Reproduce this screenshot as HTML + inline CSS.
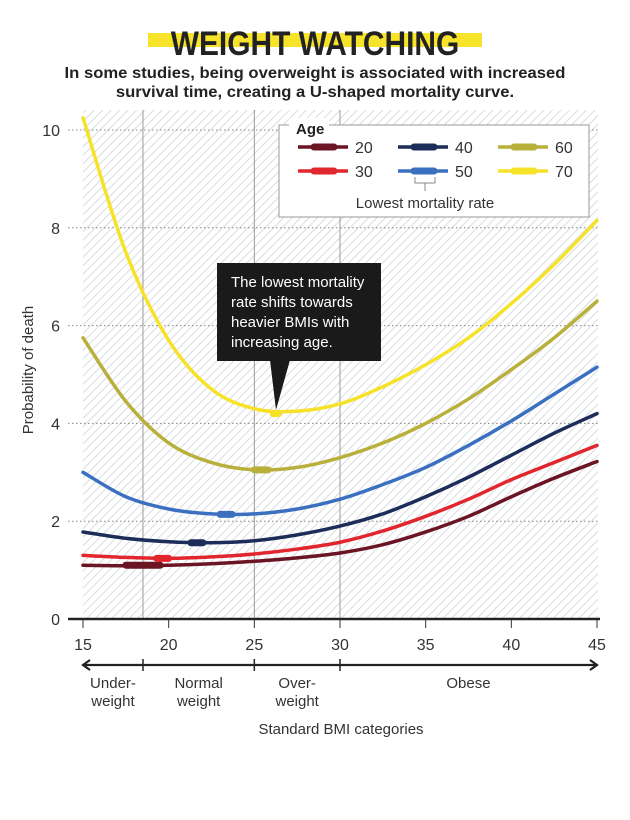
<!DOCTYPE html>
<html><head><meta charset="utf-8"><style>
body{margin:0;background:#fff;width:630px;height:815px;overflow:hidden;font-family:"Liberation Sans",sans-serif}
text{font-family:"Liberation Sans",sans-serif}
</style></head><body>
<svg id="chart" width="630" height="815" viewBox="0 0 630 815" xmlns="http://www.w3.org/2000/svg">
<defs>
<pattern id="hatch" width="6" height="6" patternUnits="userSpaceOnUse" patternTransform="rotate(45)">
<rect width="6" height="6" fill="#fff"/><line x1="0" y1="0" x2="0" y2="6" stroke="#d8dce0" stroke-width="2"/>
</pattern>
</defs>
<rect x="148" y="33" width="334" height="14" fill="#f6e32a"/>
<text x="315" y="55" text-anchor="middle" font-size="34" font-weight="bold" fill="#222" transform="translate(315,0) scale(0.88,1) translate(-315,0)">WEIGHT WATCHING</text>
<text x="315" y="78" text-anchor="middle" font-size="16" font-weight="bold" fill="#222" transform="translate(315,0) scale(1.04,1) translate(-315,0)">In some studies, being overweight is associated with increased</text>
<text x="315" y="97" text-anchor="middle" font-size="16" font-weight="bold" fill="#222" transform="translate(315,0) scale(1.04,1) translate(-315,0)">survival time, creating a U-shaped mortality curve.</text>
<rect x="83" y="110" width="515" height="509" fill="url(#hatch)"/>
<g id="grid"></g>
<g id="series"></g>
<g id="axes"></g>
<g>
<rect x="279" y="125" width="310" height="92" fill="#fff" stroke="#999" stroke-width="1"/>
<rect x="289" y="118" width="40" height="14" fill="#fff"/>
<text x="296" y="134" font-size="15" font-weight="bold" fill="#222">Age</text>
<g id="legend-items"></g>
<path d="M415 177 v6 h20 v-6 M425 183 v8" fill="none" stroke="#888" stroke-width="1"/>
<text x="425" y="208" text-anchor="middle" font-size="15" fill="#333">Lowest mortality rate</text>
</g>
<g>
<rect x="217" y="263" width="164" height="98" fill="#1a1a1a"/>
<path d="M270 360 L276 410 L290 360 Z" fill="#1a1a1a"/>
<text fill="#fff" font-size="15"><tspan x="231" y="287">The lowest mortality</tspan><tspan x="231" y="307">rate shifts towards</tspan><tspan x="231" y="327">heavier BMIs with</tspan><tspan x="231" y="347">increasing age.</tspan></text>
</g>
<text transform="translate(33,370) rotate(-90)" text-anchor="middle" font-size="15" fill="#333">Probability of death</text>
<text x="341" y="734" text-anchor="middle" font-size="15" fill="#333">Standard BMI categories</text>
</svg>
<script>
const bmi=[15,17.5,20,22.5,25,27.5,30,32.5,35,37.5,40,42.5,45];
const ages=["20","30","40","50","60","70"];
const age20=[1.1,1.09,1.1,1.13,1.18,1.25,1.35,1.52,1.78,2.1,2.5,2.88,3.22];
const age30=[1.3,1.26,1.24,1.27,1.33,1.43,1.57,1.8,2.1,2.45,2.85,3.2,3.55];
const age40=[1.78,1.65,1.58,1.56,1.6,1.72,1.9,2.15,2.5,2.9,3.35,3.8,4.2];
const age50=[3.0,2.5,2.25,2.15,2.15,2.25,2.45,2.75,3.1,3.55,4.05,4.6,5.15];
const age60=[5.75,4.45,3.6,3.2,3.05,3.1,3.3,3.6,4.0,4.5,5.1,5.75,6.5];
const age70=[10.25,7.5,5.7,4.7,4.3,4.25,4.4,4.75,5.2,5.75,6.45,7.25,8.15];
const minStart=[17.5,19.3,21.3,23.0,25.0,26.1];
const minEnd=[19.5,20.0,22.0,23.7,25.8,26.4];
const minVal=[1.1,1.24,1.56,2.14,3.05,4.2];
const yTicks=[0,2,4,6,8,10];
const xTicks=[15,20,25,30,35,40,45];
const bounds=[18.5,25,30];
const catLabels=[["Under-","weight"],["Normal","weight"],["Over-","weight"],["Obese"]];
const catCenters=[16.75,21.75,27.5,37.5];
const colors=["#6b1424","#e2262e","#1b2d58","#3b70c0","#b9b03c","#f7e22a"];
const series=[age20,age30,age40,age50,age60,age70];
const NS="http://www.w3.org/2000/svg";
const X=v=>83+(v-15)*(597-83)/30;
const Y=v=>619-v*48.9;
function mk(tag,attrs,parent){const e=document.createElementNS(NS,tag);for(const k in attrs)e.setAttribute(k,attrs[k]);parent.appendChild(e);return e;}
const grid=document.getElementById('grid'),axes=document.getElementById('axes'),ser=document.getElementById('series'),leg=document.getElementById('legend-items');
yTicks.forEach(t=>{if(t>0){const l=mk('line',{x1:68,x2:598,y1:Y(t),y2:Y(t),stroke:'#888','stroke-width':1,'stroke-dasharray':'1.5,2.5'},grid);

}
const tx=mk('text',{x:60,y:Y(t)+6,'text-anchor':'end','font-size':16,fill:'#333'},axes);tx.textContent=t;

});
bounds.forEach(b=>{const l=mk('line',{x1:X(b),x2:X(b),y1:110,y2:619,stroke:'#999','stroke-width':1},grid);

});
function path(vals){const p=bmi.map((b,i)=>[X(b),Y(vals[i])]);let d=`M${p[0][0]},${p[0][1]}`;
for(let i=0;i<p.length-1;i++){const p0=p[i-1]||p[i],p1=p[i],p2=p[i+1],p3=p[i+2]||p2;
d+=` C${p1[0]+(p2[0]-p0[0])/6},${p1[1]+(p2[1]-p0[1])/6} ${p2[0]-(p3[0]-p1[0])/6},${p2[1]-(p3[1]-p1[1])/6} ${p2[0]},${p2[1]}`;}return d;}
series.forEach((s,i)=>{const c=mk('path',{d:path(s),fill:'none',stroke:colors[i],'stroke-width':3.5,'stroke-linecap':'round'},ser);


const m=mk('line',{x1:X(minStart[i]),x2:X(minEnd[i]),y1:Y(minVal[i]),y2:Y(minVal[i]),stroke:colors[i],'stroke-width':7,'stroke-linecap':'round'},ser);


const col=Math.floor(i/2),row=i%2,lx=298+col*100,ly=147+row*24;
const a=mk('line',{x1:lx,x2:lx+50,y1:ly,y2:ly,stroke:colors[i],'stroke-width':3.5},leg);


const b=mk('line',{x1:lx+16,x2:lx+36,y1:ly,y2:ly,stroke:colors[i],'stroke-width':7,'stroke-linecap':'round'},leg);


const t=mk('text',{x:lx+57,y:ly+6,'font-size':16,fill:'#333'},leg);t.textContent=ages[i];

});
const ax=mk('line',{x1:68,x2:600,y1:619,y2:619,stroke:'#222','stroke-width':2.5},axes);


xTicks.forEach(t=>{const l=mk('line',{x1:X(t),x2:X(t),y1:619,y2:628,stroke:'#333','stroke-width':1},axes);


const tx=mk('text',{x:X(t),y:650,'text-anchor':'middle','font-size':16,fill:'#333'},axes);tx.textContent=t;

});
const ar=mk('path',{d:`M${X(15)},665 H${X(45)} M${X(15)+7},660 L${X(15)},665 L${X(15)+7},670 M${X(45)-7},660 L${X(45)},665 L${X(45)-7},670`,fill:'none',stroke:'#222','stroke-width':2.2},axes);


bounds.forEach(b=>{const l=mk('line',{x1:X(b),x2:X(b),y1:659,y2:671,stroke:'#222','stroke-width':1.5},axes);

});
catLabels.forEach((lab,i)=>{const t=mk('text',{'text-anchor':'middle','font-size':15,fill:'#333'},axes);


lab.forEach((s,j)=>{const ts=mk('tspan',{x:X(catCenters[i]),y:688+j*18},t);ts.textContent=s;});});
</script>
</body></html>
